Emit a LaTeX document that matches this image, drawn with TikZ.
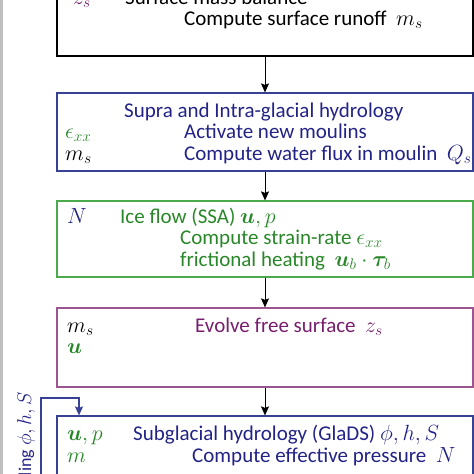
\RequirePackage{fix-cm}
\documentclass[tikz,border=0pt]{standalone}
\usepackage{bm}
\usepackage{fontspec}
\setmainfont{Carlito}
\usetikzlibrary{arrows.meta,positioning}
\definecolor{navy}{RGB}{35,35,135}
\definecolor{boxblue}{RGB}{55,65,150}
\definecolor{leafgreen}{RGB}{75,170,75}
\definecolor{textgreen}{RGB}{40,135,40}
\definecolor{plum}{RGB}{120,30,110}
\definecolor{mauve}{RGB}{155,85,145}
\newcommand{\mth}[1]{{\fontsize{22}{22}\selectfont$#1$}}

\begin{document}
\begin{tikzpicture}[x=1pt,y=-1pt,>={Stealth[length=9pt,width=8pt,inset=1.5pt]},
  stepbox/.style={draw,line width=1.2pt,minimum width=416pt,inner sep=0pt},
  txt/.style={anchor=base west,inner sep=0pt,font=\fontsize{21}{24}\selectfont}]
\useasboundingbox (0,0) rectangle (474,474);
\clip (0,0) rectangle (474,474);
\fill[black!25] (0,0) rectangle (3,474);
% the five steps
  \node[stepbox,draw=black,minimum height=100pt]  (smb)    at (265,6)     {};
  \node[stepbox,draw=boxblue,minimum height=78pt] (supra)  at (265,132)   {};
  \node[stepbox,draw=leafgreen,minimum height=76pt] (ice)  at (265,239)   {};
  \node[stepbox,draw=mauve,minimum height=79pt]   (surf)   at (265,347.5) {};
  \node[stepbox,draw=boxblue,minimum height=84pt] (glads)  at (265,458)   {};
% surface mass balance
  \node[txt,text=plum]  (smbin)  at (73,4.5)   {\mth{z_s}};
  \node[txt]            (smbA)   at (125,4.5)  {Surface mass balance};
  \node[txt]            (smbB)   at (184,25.5) {Compute surface runoff \ \mth{m_s}};
% supra and intra-glacial hydrology
  \node[txt,text=navy]       (supraA)  at (124,117.5) {Supra and Intra-glacial hydrology};
  \node[txt,text=textgreen]  (suprain) at (65,138.5)  {\mth{\epsilon_{xx}}};
  \node[txt,text=navy]       (supraB)  at (184,138.5) {Activate new moulins};
  \node[txt]                 (suprams) at (65,160)    {\mth{m_s}};
  \node[txt,text=navy]       (supraC)  at (184,160)   {Compute water flux in moulin \ \mth{Q_s}};
% ice flow
  \node[txt,text=navy]       (icein)   at (67,223)  {\mth{N}};
  \node[txt,text=textgreen]  (iceA)    at (120,223) {Ice flow (SSA) \mth{\bm{u}, p}};
  \node[txt,text=textgreen]  (iceB)    at (180,244.5) {Compute strain-rate \mth{\epsilon_{xx}}};
  \node[txt,text=textgreen]  (iceC)    at (180,266) {frictional heating \ \mth{\bm{u}_b\cdot\bm{\tau}_b}};
% free surface
  \node[txt]                 (surfms)  at (67,332)  {\mth{m_s}};
  \node[txt,text=textgreen]  (surfu)   at (67,353)  {\mth{\bm{u}}};
  \node[txt,text=plum]       (surfA)   at (195,332) {Evolve free surface \ \mth{z_s}};
% subglacial hydrology
  \node[txt,text=textgreen]  (gladsup) at (67,440)  {\mth{\bm{u}, p}};
  \node[txt,text=textgreen]  (gladsm)  at (67,462)  {\mth{m}};
  \node[txt,text=navy]       (gladsA)  at (133,440) {Subglacial hydrology (GlaDS) \mth{\phi, h, S}};
  \node[txt,text=navy]       (gladsB)  at (192,462) {Compute effective pressure \ \mth{N}};
% feedback
  \coordinate (fbstart) at (41,490);
  \coordinate (fbtop)   at (79,398);
  \node[txt,anchor=base east,rotate=90,text=navy,font=\fontsize{18}{20}\selectfont] (fblabel) at (31,392)
    {ling {\fontsize{20}{20}\selectfont$\phi, h, S$}};
\draw[->,line width=1pt] (smb) -- (supra);
\draw[->,line width=1pt] (supra) -- (ice);
\draw[->,line width=1pt] (ice) -- (surf);
\draw[->,line width=1pt] (surf) -- (glads);
\draw[->,line width=1.2pt,draw=boxblue] (fbstart) |- (fbtop) -- (fbtop |- glads.north);
\end{tikzpicture}
\end{document}
